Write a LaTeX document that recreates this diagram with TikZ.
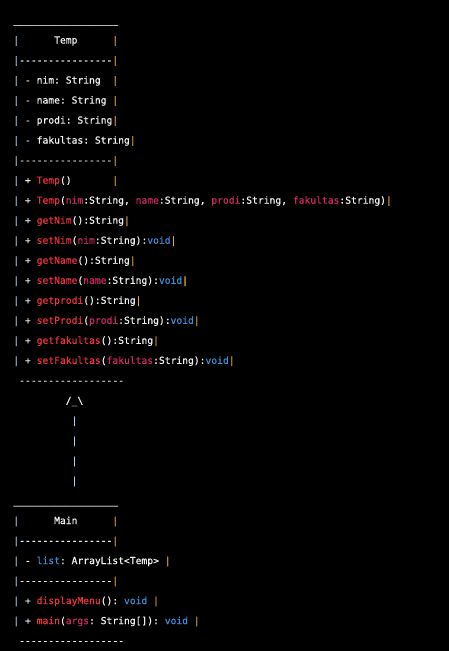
\documentclass[tikz,border=0pt]{standalone}
\usepackage{fontspec}
\setmonofont{DejaVu Sans Mono}[FakeBold=0.6]
\usepackage{xcolor}
\definecolor{txtc}{HTML}{EEEEEE}
\definecolor{lpc}{HTML}{A8CFF0}
\definecolor{rpc}{HTML}{EDAA3C}
\definecolor{fnc}{HTML}{E8323E}
\definecolor{pac}{HTML}{C82A62}
\definecolor{kwc}{HTML}{3B8CD2}
\newlength\Cw
\setlength\Cw{5.8218pt}
\newcommand\Sp[1]{\hspace*{#1\Cw}}
\newcommand\Lpipe{\textcolor{lpc}{|}}
\newcommand\Rpipe{\textcolor{rpc}{|}}
\newcommand\Fn[1]{\textcolor{fnc}{#1}}
\newcommand\Pa[1]{\textcolor{pac}{#1}}
\newcommand\Kw[1]{\textcolor{kwc}{#1}}
\newcommand\Unders{\_\_\_\_\_\_\_\_\_\_\_\_\_\_\_\_\_\_}
\newcommand\Sixteen{----------------}
\begin{document}
\begin{tikzpicture}[x=1pt,y=-1pt,
  ln/.style={anchor=base west,inner sep=0pt,outer sep=0pt,text=txtc,
    font=\ttfamily\fontsize{9.67}{12}\selectfont}]
\fill[black] (0,0) rectangle (449,651);
\useasboundingbox (0,0) rectangle (449,651);
\def\X{13.4}
\def\B{23.5}
\def\D{20.02}
\node[ln] (r0) at (\X,\B+0*\D) {\Unders};
\node[ln] (r1) at (\X,\B+1*\D) {\Lpipe\Sp{6}Temp\Sp{6}\Rpipe};
\node[ln] (r2) at (\X,\B+2*\D) {\Lpipe\Sixteen\Rpipe};
\node[ln] (r3) at (\X,\B+3*\D) {\Lpipe\Sp{1}-\Sp{1}nim:\Sp{1}String\Sp{2}\Rpipe};
\node[ln] (r4) at (\X,\B+4*\D) {\Lpipe\Sp{1}-\Sp{1}name:\Sp{1}String\Sp{1}\Rpipe};
\node[ln] (r5) at (\X,\B+5*\D) {\Lpipe\Sp{1}-\Sp{1}prodi:\Sp{1}String\Rpipe};
\node[ln] (r6) at (\X,\B+6*\D) {\Lpipe\Sp{1}-\Sp{1}fakultas:\Sp{1}String\Rpipe};
\node[ln] (r7) at (\X,\B+7*\D) {\Lpipe\Sixteen\Rpipe};
\node[ln] (r8) at (\X,\B+8*\D) {\Lpipe\Sp{1}+\Sp{1}\Fn{Temp}()\Sp{7}\Rpipe};
\node[ln] (r9) at (\X,\B+9*\D) {\Lpipe\Sp{1}+\Sp{1}\Fn{Temp}(\Pa{nim}:String,\Sp{1}\Pa{name}:String,\Sp{1}\Pa{prodi}:String,\Sp{1}\Pa{fakultas}:String)\Rpipe};
\node[ln] (r10) at (\X,\B+10*\D) {\Lpipe\Sp{1}+\Sp{1}\Fn{getNim}():String\Rpipe};
\node[ln] (r11) at (\X,\B+11*\D) {\Lpipe\Sp{1}+\Sp{1}\Fn{setNim}(\Pa{nim}:String):\Kw{void}\Rpipe};
\node[ln] (r12) at (\X,\B+12*\D) {\Lpipe\Sp{1}+\Sp{1}\Fn{getName}():String\Rpipe};
\node[ln] (r13) at (\X,\B+13*\D) {\Lpipe\Sp{1}+\Sp{1}\Fn{setName}(\Pa{name}:String):\Kw{void}\Rpipe};
\node[ln] (r14) at (\X,\B+14*\D) {\Lpipe\Sp{1}+\Sp{1}\Fn{getprodi}():String\Rpipe};
\node[ln] (r15) at (\X,\B+15*\D) {\Lpipe\Sp{1}+\Sp{1}\Fn{setProdi}(\Pa{prodi}:String):\Kw{void}\Rpipe};
\node[ln] (r16) at (\X,\B+16*\D) {\Lpipe\Sp{1}+\Sp{1}\Fn{getfakultas}():String\Rpipe};
\node[ln] (r17) at (\X,\B+17*\D) {\Lpipe\Sp{1}+\Sp{1}\Fn{setFakultas}(\Pa{fakultas}:String):\Kw{void}\Rpipe};
\node[ln] (r18) at (\X,\B+18*\D) {\Sp{1}------------------};
\node[ln] (r19) at (\X,\B+19*\D) {\Sp{9}/\_\textbackslash};
\node[ln] (r20) at (\X,\B+20*\D) {\Sp{10}\Lpipe};
\node[ln] (r21) at (\X,\B+21*\D) {\Sp{10}\Lpipe};
\node[ln] (r22) at (\X,\B+22*\D) {\Sp{10}\Lpipe};
\node[ln] (r23) at (\X,\B+23*\D) {\Sp{10}\Lpipe};
\node[ln] (r24) at (\X,\B+24*\D) {\Unders};
\node[ln] (r25) at (\X,\B+25*\D) {\Lpipe\Sp{6}Main\Sp{6}\Rpipe};
\node[ln] (r26) at (\X,\B+26*\D) {\Lpipe\Sixteen\Rpipe};
\node[ln] (r27) at (\X,\B+27*\D) {\Lpipe\Sp{1}-\Sp{1}\Kw{list}:\Sp{1}ArrayList<Temp>\Sp{1}\Rpipe};
\node[ln] (r28) at (\X,\B+28*\D) {\Lpipe\Sixteen\Rpipe};
\node[ln] (r29) at (\X,\B+29*\D) {\Lpipe\Sp{1}+\Sp{1}\Fn{displayMenu}():\Sp{1}\Kw{void}\Sp{1}\Rpipe};
\node[ln] (r30) at (\X,\B+30*\D) {\Lpipe\Sp{1}+\Sp{1}\Fn{main}(\Pa{args}:\Sp{1}String[]):\Sp{1}\Kw{void}\Sp{1}\Rpipe};
\node[ln] (r31) at (\X,\B+31*\D) {\Sp{1}------------------};
\end{tikzpicture}
\end{document}
